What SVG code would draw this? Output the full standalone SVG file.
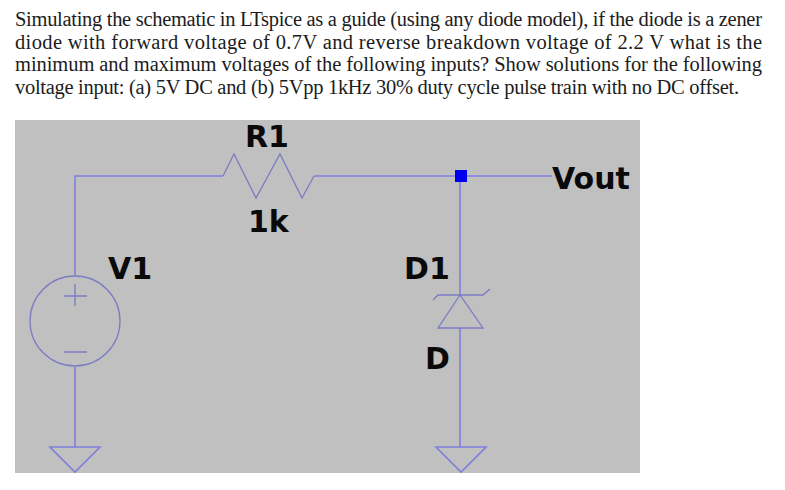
<svg xmlns="http://www.w3.org/2000/svg" width="785" height="490" viewBox="0 0 785 490">
<style>
.q{font-family:"Liberation Serif",serif;font-size:20.5px;fill:#1c1c1c}
.l{font-family:"DejaVu Sans",sans-serif;font-weight:700;font-size:30px;fill:#0a0a0a}
.w{fill:none;stroke:#7f7fdc;stroke-width:1.6}
.s{fill:none;stroke:#7c7cc4;stroke-width:1.3}
</style>
<rect width="785" height="490" fill="#fff"/>
<g id="question">
<text class="q" x="15" y="26" textLength="747" lengthAdjust="spacing">Simulating the schematic in LTspice as a guide (using any diode model), if the diode is a zener</text>
<text class="q" x="15" y="49" textLength="747" lengthAdjust="spacing">diode with forward voltage of 0.7V and reverse breakdown voltage of 2.2 V what is the</text>
<text class="q" x="15" y="71" textLength="747" lengthAdjust="spacing">minimum and maximum voltages of the following inputs? Show solutions for the following</text>
<text class="q" x="15" y="94" textLength="724" lengthAdjust="spacing">voltage input: (a) 5V DC and (b) 5Vpp 1kHz 30% duty cycle pulse train with no DC offset.</text>
</g>
<rect id="background" x="15" y="120" width="625" height="353" fill="#c0c0c0"/>
<g id="connectors">
<path class="w" d="M75 276V176H223"/>
<path class="w" d="M314 176H552"/>
<path class="w" d="M460 176V295"/>
<path class="w" d="M460 328V447"/>
<path class="w" d="M75 367V447"/>
</g>
<g id="V1">
<circle class="s" cx="75" cy="321" r="45"/>
<path class="s" d="M64 296H87M75 284V306M64 352H87"/>
<text class="l" x="108" y="279">V1</text>
</g>
<g id="R1">
<path class="s" d="M223 176L234 154L256 198L280 154L302 198L314 176"/>
<text class="l" x="245" y="147">R1</text>
<text class="l" x="248" y="232">1k</text>
</g>
<g id="D1">
<path class="s" d="M433 300L438 295H483L490 289M460 295L438 328H483Z"/>
<text class="l" x="404" y="279">D1</text>
<text class="l" x="425" y="369">D</text>
</g>
<g id="gnd1"><path class="w" d="M50 447H100L75 472Z"/></g>
<g id="gnd2"><path class="w" d="M436 447H486L461 472Z"/></g>
<g id="Vout">
<rect x="455" y="170" width="12" height="12" fill="#0000f0"/>
<text class="l" x="552" y="189">Vout</text>
</g>
</svg>
